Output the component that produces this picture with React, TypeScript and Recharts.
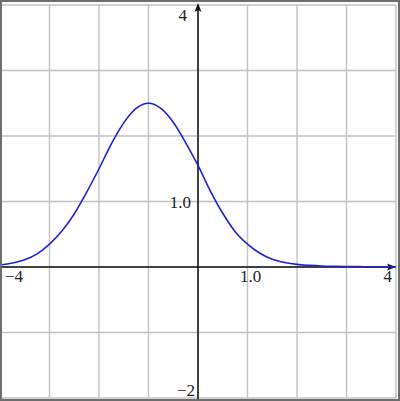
import React from 'react';
import { LineChart, Line, XAxis, YAxis, CartesianGrid, ReferenceLine, ReferenceDot } from 'recharts';

// curve, x step 0.25
const xValues = [
    -4, -3.75, -3.5, -3.25, -3, -2.75, -2.5, -2.25, -2, -1.75, -1.5, -1.25, -1,
    -0.75, -0.5, -0.25, 0, 0.25, 0.5, 0.75, 1, 1.25, 1.5, 1.75, 2, 2.25, 2.5,
    2.75, 3, 3.25, 3.5, 3.75, 4,
];
const yValues = [
    0.03, 0.06, 0.11, 0.2, 0.35, 0.55, 0.81, 1.14, 1.5, 1.88, 2.2, 2.42, 2.5,
    2.42, 2.21, 1.9, 1.55, 1.16, 0.82, 0.54, 0.35, 0.21, 0.12, 0.07, 0.04, 0.025, 0.015,
    0.01, 0.007, 0.005, 0.003, 0.002, 0.001,
];

const gridX = [-3, -2, -1, 0, 1, 2, 3];
const gridY = [-1, 0, 1, 2, 3];

const xTickValues = [-4, 1, 4];
const xTickText = ['\u22124', '1.0', '4'];
const yTickValues = [4, 1, -2];
const yTickText = ['4', '1.0', '\u22122'];

const X_DOMAIN: [number, number] = [-4, 4];
const Y_DOMAIN: [number, number] = [-2, 4];

const curveData = xValues.map((x, i) => ({ x, y: yValues[i] }));

const FONT = '"Liberation Serif", "Times New Roman", serif';

// axis line with arrow head at the far end
const ArrowAxis = (p: any, dir: 'up' | 'right') => {
    const { x1, y1, x2, y2 } = p;
    if (dir === 'right') {
        const y = y1;
        const xs = Math.min(x1, x2) - 2;
        const xe = Math.max(x1, x2);
        return (
            <g>
                <line x1={xs} y1={y} x2={xe - 2} y2={y} stroke="#111" strokeWidth={1.5} />
                <path d={`M${xe},${y} L${xe - 9},${y - 3.5} L${xe - 7},${y} L${xe - 9},${y + 3.5} Z`} fill="#111" />
            </g>
        );
    }
    const x = x1;
    const ys = Math.max(y1, y2) + 4;
    const ye = Math.min(y1, y2) - 2;
    return (
        <g>
            <line x1={x} y1={ys} x2={x} y2={ye + 2} stroke="#111" strokeWidth={1.5} />
            <path d={`M${x},${ye} L${x - 3.5},${ye + 9} L${x},${ye + 7} L${x + 3.5},${ye + 9} Z`} fill="#111" />
        </g>
    );
};

const XTickLabel = (p: any, v: number, text: string) => {
    let anchor: 'start' | 'middle' | 'end' = 'middle';
    let dx = 3;
    if (v === X_DOMAIN[0]) { anchor = 'start'; dx = 5; }
    if (v === X_DOMAIN[1]) { anchor = 'end'; dx = -4; }
    return (
        <text x={p.cx + dx} y={p.cy + 15} textAnchor={anchor} fontFamily={FONT} fontSize={17} fill="#222">
            {text}
        </text>
    );
};

const YTickLabel = (p: any, v: number, text: string) => {
    let dx = -7;
    let dy = 6;
    if (v === Y_DOMAIN[1]) { dx = -11; dy = 16; }
    if (v === Y_DOMAIN[0]) { dx = -3; dy = -2; }
    return (
        <text x={p.cx + dx} y={p.cy + dy} textAnchor="end" fontFamily={FONT} fontSize={17} fill="#222">
            {text}
        </text>
    );
};

export default function App() {
    return (
        <div style={{ position: 'absolute', left: 0, top: 0, width: 400, height: 401, background: '#fff' }}>
            <LineChart width={400} height={401} data={curveData} margin={{ top: 5, right: 4, bottom: 3, left: 0 }}>
                <XAxis dataKey="x" type="number" domain={X_DOMAIN} ticks={gridX} hide allowDataOverflow />
                <YAxis type="number" domain={Y_DOMAIN} ticks={gridY} hide allowDataOverflow />
                <CartesianGrid stroke="#c2c2c2" strokeWidth={1.4} />
                <ReferenceLine y={0} ifOverflow="visible" shape={(p: any) => ArrowAxis(p, 'right')} />
                <ReferenceLine x={0} ifOverflow="visible" shape={(p: any) => ArrowAxis(p, 'up')} />
                <Line
                    type="monotone"
                    dataKey="y"
                    stroke="#2121d4"
                    strokeWidth={1.6}
                    dot={false}
                    isAnimationActive={false}
                />
                {xTickValues.map((v, i) => (
                    <ReferenceDot key={`xt${v}`} x={v} y={0} r={0} ifOverflow="visible"
                        shape={(p: any) => XTickLabel(p, v, xTickText[i])} />
                ))}
                {yTickValues.map((v, i) => (
                    <ReferenceDot key={`yt${v}`} x={0} y={v} r={0} ifOverflow="visible"
                        shape={(p: any) => YTickLabel(p, v, yTickText[i])} />
                ))}
            </LineChart>
            <div style={{ position: 'absolute', inset: 0, border: '2px solid #6e6e6e', pointerEvents: 'none' }} />
        </div>
    );
}
